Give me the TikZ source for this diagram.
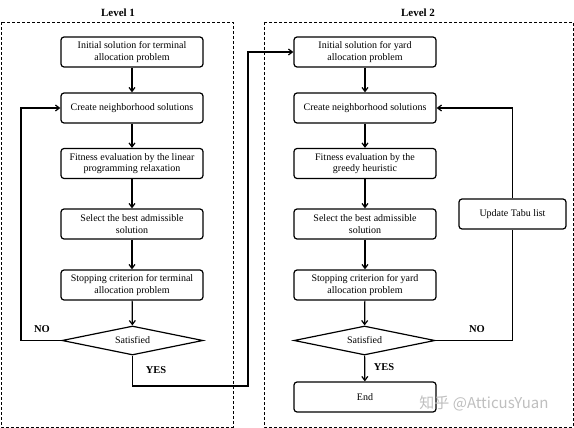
\documentclass[tikz,border=0pt]{standalone}
\usepackage{fontspec}
\setmainfont{Liberation Serif}
\newfontfamily\cjkwm{Noto Sans CJK SC}
\usetikzlibrary{arrows.meta,shapes.geometric}
\begin{document}
\begin{tikzpicture}[x=1pt,y=-1pt,
  lw/.style={line width=1.2pt},
  pbox/.style={draw,lw,rounded corners=3pt,minimum width=142pt,minimum height=30pt,align=center,font=\fontsize{10}{11.5}\selectfont,inner sep=1pt},
  dia/.style={draw,lw,diamond,aspect=4.8,minimum width=141pt,minimum height=29pt,inner sep=0pt,font=\fontsize{10}{11.5}\selectfont},
  frame/.style={draw,line width=0.8pt,dash pattern=on 3pt off 2pt},
  arr/.style={lw,-{Straight Barb[length=4pt,width=6pt]}},
  ln/.style={lw},
  ttl/.style={font=\fontsize{11}{12}\selectfont\bfseries},
  lbl/.style={font=\fontsize{10.5}{12}\selectfont\bfseries}]
\useasboundingbox (0,0) rectangle (574,428);
\fill[white] (0,0) rectangle (574,428);
% frames
\draw[frame] (1,22) rectangle (233,427);
\draw[frame] (264,22) rectangle (573,427);
\node[ttl] (t1) at (118,13) {Level 1};
\node[ttl] (t2) at (418,13) {Level 2};
% level 1
\node[pbox] (a1) at (132,52) {Initial solution for terminal\\allocation problem};
\node[pbox] (a2) at (132,108) {Create neighborhood solutions};
\node[pbox] (a3) at (132,163.5) {Fitness evaluation by the linear\\programming relaxation};
\node[pbox] (a4) at (132,224) {Select the best admissible\\solution};
\node[pbox] (a5) at (132,285) {Stopping criterion for terminal\\allocation problem};
\node[dia] (ad) at (132.5,340.5) {Satisfied};
\draw[arr] (a1) -- (a2);
\draw[arr] (a2) -- (a3);
\draw[arr] (a3) -- (a4);
\draw[arr] (a4) -- (a5);
\draw[arr] (a5) -- (ad);
\coordinate (nl1) at (21,340.5);
\coordinate (nl2) at (21,108);
\draw[arr] (ad.west) -- (nl1) -- (nl2) -- (a2.west);
\node[lbl] (no1) at (42,329) {NO};
\coordinate (y1) at (132.5,386);
\coordinate (y2) at (248,386);
\coordinate (y3) at (248,52);
% level 2
\node[pbox] (b1) at (365,52) {Initial solution for yard\\allocation problem};
\node[pbox] (b2) at (365,108) {Create neighborhood solutions};
\node[pbox] (b3) at (365,163.5) {Fitness evaluation by the\\greedy heuristic};
\node[pbox] (b4) at (365,224) {Select the best admissible\\solution};
\node[pbox] (b5) at (365,285) {Stopping criterion for yard\\allocation problem};
\node[dia] (bd) at (364.5,340.5) {Satisfied};
\node[pbox] (be) at (365,397) {End};
\node[pbox,minimum width=107pt] (tb) at (512.5,214) {Update Tabu list};
\draw[arr] (ad.south) -- (y1) -- (y2) -- (y3) -- (b1.west);
\node[lbl] (yes1) at (156,370) {YES};
\draw[arr] (b1) -- (b2);
\draw[arr] (b2) -- (b3);
\draw[arr] (b3) -- (b4);
\draw[arr] (b4) -- (b5);
\draw[arr] (b5) -- (bd);
\draw[arr] (bd) -- (be);
\node[lbl] (yes2) at (384,367) {YES};
\coordinate (n2a) at (512.5,340.5);
\coordinate (n2b) at (512.5,108);
\draw[ln] (bd.east) -- (n2a) -- (tb.south);
\draw[arr] (tb.north) -- (n2b) -- (b2.east);
\node[lbl] (no2) at (477,329) {NO};
% watermark
\node[text=black!25,font=\cjkwm\fontsize{15}{16}\selectfont] (wm) at (484,403) {知乎 @AtticusYuan};
\end{tikzpicture}
\end{document}
